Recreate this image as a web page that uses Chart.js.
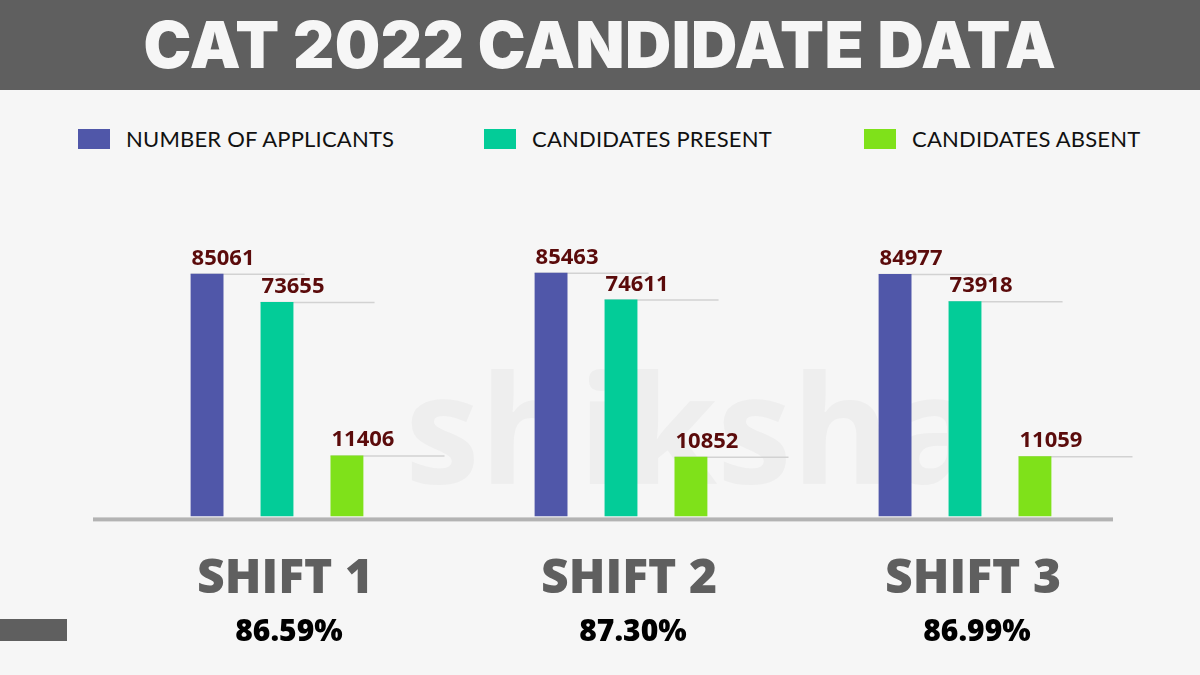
<!DOCTYPE html>
<html>
<head>
<meta charset="utf-8">
<script src="https://cdn.jsdelivr.net/npm/chart.js@4/dist/chart.umd.min.js"></script>
<style>
  html, body { margin:0; padding:0; width:1200px; height:675px; overflow:hidden; background:#f6f6f6; }
  #wrap { position:relative; width:1200px; height:675px; }
  #title { position:absolute; left:0; top:0; width:1200px; height:90px; background:#5f5f5f; color:#f6f6f6;
           font-family:Inter, "Open Sans", sans-serif; font-weight:900; font-size:64px; line-height:90px; text-align:center; letter-spacing:0.5px; }
  .lg { position:absolute; top:129px; height:20px; }
  .sw { position:absolute; top:0; width:32px; height:20px; }
  .lt { position:absolute; top:-4px; white-space:nowrap; font-family:Lato, "Open Sans", sans-serif; font-size:22px; color:#111; line-height:28px; letter-spacing:0.2px; }
  #bar { position:absolute; left:0; top:619px; width:67px; height:22px; background:#5f5f5f; }
  canvas { position:absolute; left:0; top:0; }
</style>
</head>
<body>
<div id="wrap">
  <div id="title">CAT 2022 CANDIDATE DATA</div>
  <div id="legend"></div>
  <div id="bar"></div>
  <canvas id="c" width="1200" height="675"></canvas>
</div>
<script>
const categories = ['SHIFT 1', 'SHIFT 2', 'SHIFT 3'];
const seriesNames = ['NUMBER OF APPLICANTS', 'CANDIDATES PRESENT', 'CANDIDATES ABSENT'];
const applicants = [85061, 85463, 84977];
const present = [73655, 74611, 73918];
const absent = [11406, 10852, 11059];
const attendance = ['86.59%', '87.30%', '86.99%'];
const colors = ['#5057a9', '#03cc98', '#7fe11a'];

const legendX = [78, 484, 864];
const legend = document.getElementById('legend');
seriesNames.forEach((n, i) => {
  const d = document.createElement('div');
  d.className = 'lg';
  d.style.left = legendX[i] + 'px';
  d.innerHTML = '<div class="sw" style="background:' + colors[i] + '"></div><div class="lt" style="left:48px">' + n + '</div>';
  legend.appendChild(d);
});

const yMin = -13300, yMax = 115000;

const labelPlugin = {
  id: 'labelPlugin',
  beforeDatasetsDraw(chart) {
    const ctx = chart.ctx;
    ctx.save();
    // faint watermark
    ctx.fillStyle = '#eeeeee';
    ctx.font = 'bold 150px "Open Sans", sans-serif';
    ctx.textBaseline = 'alphabetic';
    ctx.fillText('shiksha', 405, 484);
    // guide lines under value labels
    ctx.strokeStyle = '#d2d2d2';
    ctx.lineWidth = 1.5;
    chart.data.datasets.forEach((ds, di) => {
      chart.getDatasetMeta(di).data.forEach(el => {
        const left = el.x - el.width / 2;
        ctx.beginPath();
        ctx.moveTo(left, el.y + 0.5);
        ctx.lineTo(left + 114, el.y + 0.5);
        ctx.stroke();
      });
    });
    ctx.restore();
  },
  afterDatasetsDraw(chart) {
    const ctx = chart.ctx;
    const area = chart.chartArea;
    ctx.save();
    // baseline
    ctx.fillStyle = '#b3b3b3';
    ctx.fillRect(area.left - 12, area.bottom + 1, area.right - 24 - (area.left - 12), 4);
    // value labels
    ctx.fillStyle = '#5b0b0b';
    ctx.font = 'bold 22px "Open Sans", sans-serif';
    ctx.textAlign = 'left';
    ctx.textBaseline = 'alphabetic';
    chart.data.datasets.forEach((ds, di) => {
      chart.getDatasetMeta(di).data.forEach((el, i) => {
        const left = el.x - el.width / 2;
        ctx.fillText(String(ds.data[i]), left + 1, el.y - 9);
      });
    });
    // attendance percentages
    const xs = chart.scales.x;
    ctx.fillStyle = '#000';
    ctx.font = '800 30px "Open Sans", sans-serif';
    ctx.textAlign = 'center';
    attendance.forEach((p, i) => {
      ctx.fillText(p, xs.getPixelForValue(i) + 12, 641);
    });
    ctx.restore();
  }
};

new Chart(document.getElementById('c'), {
  type: 'bar',
  data: {
    labels: categories,
    datasets: [
      { label: seriesNames[0], data: applicants, backgroundColor: colors[0], base: yMin },
      { label: seriesNames[1], data: present, backgroundColor: colors[1], base: yMin },
      { label: seriesNames[2], data: absent, backgroundColor: colors[2], base: yMin }
    ]
  },
  options: {
    responsive: false,
    animation: false,
    maintainAspectRatio: false,
    categoryPercentage: 0.61,
    barPercentage: 0.47,
    layout: { padding: { top: 200, left: 105, right: 63, bottom: 33 } },
    plugins: { legend: { display: false }, tooltip: { enabled: false } },
    scales: {
      x: {
        grid: { display: false, drawTicks: false },
        border: { display: false },
        ticks: { padding: 34, labelOffset: 8, color: '#5f5f5f', font: { family: '"Open Sans", sans-serif', size: 48, weight: '800' } }
      },
      y: { display: false, min: yMin, max: yMax }
    }
  },
  plugins: [labelPlugin]
});
</script>
</body>
</html>
